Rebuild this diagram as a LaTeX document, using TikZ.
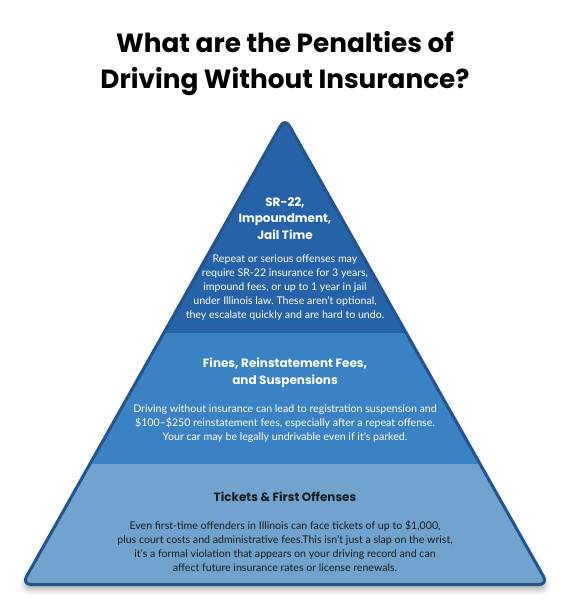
\documentclass[tikz,border=0pt]{standalone}
\usepackage{fontspec}
\setmainfont{Lato}
\newfontfamily\headfont{Poppins}
\usetikzlibrary{positioning, shadows.blur}
\definecolor{topblue}{HTML}{2662A8}
\definecolor{midblue}{HTML}{3B82C4}
\definecolor{lowblue}{HTML}{70A3CE}
\definecolor{rimblue}{HTML}{23548C}
\definecolor{inkdark}{HTML}{1B1B1B}
\frenchspacing

\begin{document}
\begin{tikzpicture}[x=1pt, y=-1pt,
    rim/.style={draw=rimblue, line width=3pt, rounded corners=9pt, line join=round},
    head/.style={align=center, inner sep=0pt, text=white, font=\headfont\bfseries\fontsize{12}{16.5}\selectfont},
    body/.style={align=center, inner sep=0pt, text=white, font=\fontsize{10.6}{14}\selectfont}]
  \useasboundingbox (0,0) rectangle (570,615);
  \coordinate (apex) at (285,118);
  \coordinate (bl) at (22,584.5);
  \coordinate (br) at (548,584.5);

  \node[anchor=north, inner sep=0pt, align=center, font=\headfont\bfseries\fontsize{26.3}{36}\selectfont] (title) at (285,31)
    {What are the Penalties of\\Driving Without Insurance?};

  \fill[white, rounded corners=9pt, blur shadow={shadow xshift=0pt, shadow yshift=-5pt, shadow blur radius=6pt, shadow opacity=35}]
    (apex) -- (bl) -- (br) -- cycle;
  \begin{scope}
    \clip[rounded corners=9pt] (apex) -- (bl) -- (br) -- cycle;
    \fill[topblue] (0,100) rectangle (570,333);
    \fill[midblue] (0,333) rectangle (570,464);
    \fill[lowblue] (0,464) rectangle (570,600);
  \end{scope}
  \draw[rim] (apex) -- (bl) -- (br) -- cycle;

  \node[head, anchor=north] (h1) at (285,197) {SR-22,\\Impoundment,\\Jail Time};
  \node[body, below=15pt of h1] (b1) {Repeat or serious offenses may\\require SR-22 insurance for 3 years,\\impound fees, or up to 1 year in jail\\under Illinois law. These aren't optional,\\they escalate quickly and are hard to undo.};

  \node[head, anchor=north] (h2) at (285,358) {Fines, Reinstatement Fees,\\and Suspensions};
  \node[body, below=17pt of h2] (b2) {Driving without insurance can lead to registration suspension and\\\$100--\$250 reinstatement fees, especially after a repeat offense.\\Your car may be legally undrivable even if it's parked.};

  \node[head, anchor=north, text=inkdark] (h3) at (285,492) {Tickets \& First Offenses};
  \node[body, below=18pt of h3, text=inkdark] (b3) {Even first-time offenders in Illinois can face tickets of up to \$1,000,\\plus court costs and administrative fees.This isn't just a slap on the wrist,\\it's a formal violation that appears on your driving record and can\\affect future insurance rates or license renewals.};
\end{tikzpicture}
\end{document}
